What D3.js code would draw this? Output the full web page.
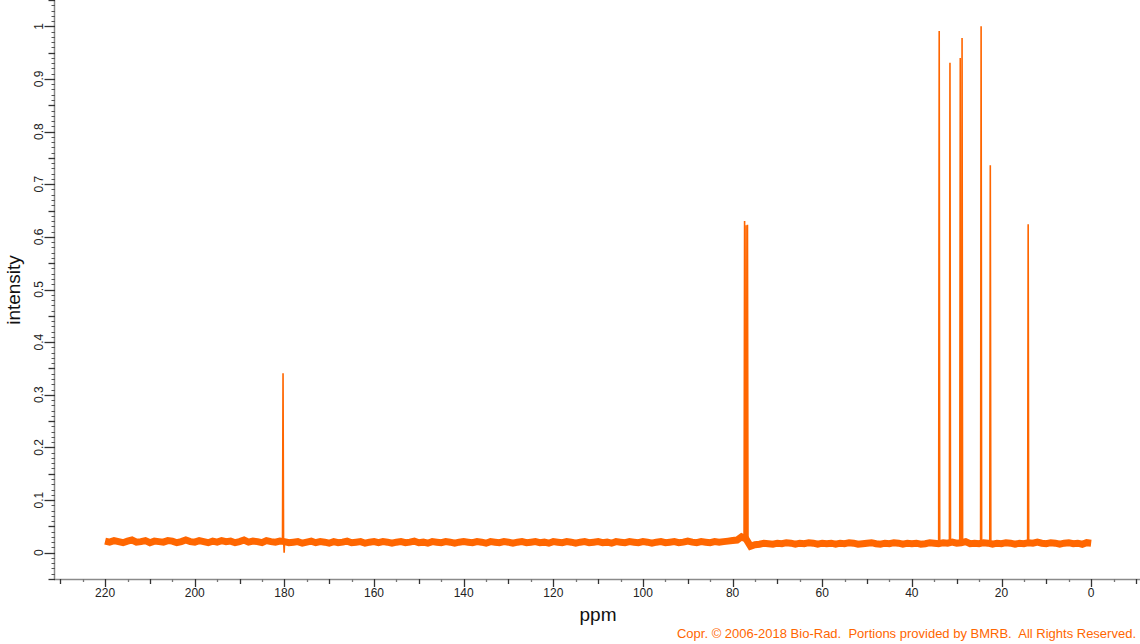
<!DOCTYPE html>
<html><head><meta charset="utf-8">
<script src="https://cdn.jsdelivr.net/npm/d3@7"></script>
<style>body{margin:0;background:#fff;} svg{display:block;font-family:"Liberation Sans",Arial,sans-serif;}</style>
</head><body><svg id="c" width="1140" height="644"></svg>
<script>
// ---- data ----
const xTickLabels = [220, 200, 180, 160, 140, 120, 100, 80, 60, 40, 20, 0];
const yTickLabels = [0, 0.1, 0.2, 0.3, 0.4, 0.5, 0.6, 0.7, 0.8, 0.9, 1];
const baselineStartPpm = 220;
const baselineStepPpm = 1;
const baselineValues = [
  0.022,0.020,0.023,0.021,0.019,0.022,0.024,0.020,0.021,0.023,0.019,0.022,0.021,0.020,0.023,0.022,0.019,0.021,0.024,0.021,
  0.020,0.023,0.021,0.019,0.022,0.020,0.023,0.021,0.022,0.019,0.021,0.024,0.020,0.022,0.021,0.019,0.023,0.021,0.020,0.022,
  0.021,
  0.019,0.020,0.021,0.018,0.020,0.022,0.019,0.021,0.020,0.018,0.021,0.019,0.020,0.022,0.019,0.020,0.021,0.018,0.020,0.021,
  0.019,0.021,0.020,0.018,0.020,0.021,0.019,0.020,0.022,0.019,0.020,0.018,0.021,0.020,0.019,0.021,0.020,0.018,0.020,0.021,
  0.020,0.019,0.021,0.020,0.018,0.021,0.020,0.019,0.021,0.020,0.018,0.020,0.021,0.019,0.020,0.021,0.019,0.020,0.018,0.021,
  0.020,0.019,0.021,0.020,0.018,0.020,0.021,0.019,0.020,0.021,0.019,0.020,0.018,0.021,0.020,0.019,0.021,0.020,0.019,0.021,
  0.020,0.018,0.020,0.021,0.019,0.020,0.021,0.019,0.020,0.022,0.020,0.019,0.021,0.020,0.019,0.021,0.020,0.021,0.022,0.023,
  0.024,0.030,0.026,0.012,0.015,0.016,0.018,0.017,0.016,0.018,0.017,0.019,0.018,0.016,0.018,0.017,0.019,0.018,0.016,0.018,
  0.017,0.018,0.016,0.018,0.017,0.019,0.018,0.016,0.017,0.018,0.019,0.017,0.016,0.018,0.017,0.019,0.018,0.016,0.018,0.017,
  0.018,0.016,0.017,0.019,0.018,0.017,0.019,0.018,0.020,0.018,0.019,0.021,0.017,0.018,0.017,0.019,0.018,0.016,0.018,0.017,
  0.019,0.018,0.016,0.018,0.017,0.019,0.018,0.020,0.018,0.017,0.019,0.018,0.016,0.018,0.019,0.017,0.018,0.016,0.019,0.018
];
const peakPpm    = [180.3, 77.32, 77.0, 76.68, 33.9, 31.5, 29.2, 28.8, 24.55, 22.5, 14.05];
const peakHeight = [0.341, 0.630, 0.622, 0.623, 0.991, 0.931, 0.940, 0.978, 1.000, 0.736, 0.624];
const dipPpm   = [180.05];
const dipValue = [0.0];
const xTitle = "ppm";
const yTitle = "intensity";
const copyright = "Copr. \u00A9 2006-2018 Bio-Rad.\u00A0 Portions provided by BMRB.\u00A0 All Rights Reserved.";

// ---- chart ----
const ORANGE = "#ff6600";
const svg = d3.select("#c");
const x = d3.scaleLinear().domain([231.4, -10.9]).range([54, 1140]);
const y = d3.scaleLinear().domain([-0.05, 1.05]).range([579, 0]);

const baseline = baselineValues.map((v, i) => [baselineStartPpm - i * baselineStepPpm, v]);
const baseAt = p => {
  const i = Math.max(0, Math.min(baselineValues.length - 1, Math.round((baselineStartPpm - p) / baselineStepPpm)));
  return baselineValues[i];
};
const line = d3.line().x(d => x(d[0])).y(d => y(d[1]));

// noise band
svg.append("path").datum(baseline).attr("d", line)
  .attr("fill", "none").attr("stroke", ORANGE).attr("stroke-width", 7)
  .attr("stroke-linejoin", "miter").attr("stroke-linecap", "butt");

// peaks
peakPpm.forEach((p, i) => {
  const b = baseAt(p);
  svg.append("path").datum([[p + 0.12, b], [p, peakHeight[i]], [p - 0.12, b]])
    .attr("d", line).attr("fill", ORANGE).attr("stroke", ORANGE).attr("stroke-width", 1.6)
    .attr("stroke-linejoin", "miter");
});
dipPpm.forEach((p, i) => {
  const b = baseAt(p);
  svg.append("path").datum([[p + 0.1, b], [p, dipValue[i]], [p - 0.1, b]])
    .attr("d", line).attr("fill", ORANGE).attr("stroke", ORANGE).attr("stroke-width", 1.6);
});

// axes
const AX = "#8a8a8a", TK = "#333";
svg.append("line").attr("x1", x.range()[0]).attr("x2", x.range()[1]).attr("y1", 579.5).attr("y2", 579.5)
  .attr("stroke", AX).attr("stroke-width", 1.5);
svg.append("line").attr("x1", 54.5).attr("x2", 54.5).attr("y1", 0).attr("y2", 579.5)
  .attr("stroke", AX).attr("stroke-width", 1.5);

// y ticks every 0.01
d3.range(-5, 106).forEach(k => {
  const yy = Math.round(y(k / 100)) + 0.5;
  const len = k % 10 === 0 ? 10 : (k % 5 === 0 ? 6 : 3);
  svg.append("line").attr("x1", 54.5 - len).attr("x2", 55).attr("y1", yy).attr("y2", yy)
    .attr("stroke", len === 3 ? "#555" : TK).attr("stroke-width", len === 3 ? 1 : 1.3);
});
svg.selectAll(".ylab").data(yTickLabels).join("text")
  .attr("transform", d => `translate(${43},${y(d)}) rotate(-90)`)
  .attr("text-anchor", "middle").attr("font-size", 12).attr("fill", "#222").text(d => d);

// x ticks every 5 ppm
d3.range(-10, 235, 5).forEach(p => {
  if (p > 231.4) return;
  const xx = Math.round(x(p)) + 0.5;
  const len = p % 20 === 0 ? 8 : (p % 10 === 0 ? 5 : 3);
  svg.append("line").attr("x1", xx).attr("x2", xx).attr("y1", 579).attr("y2", 579 + len)
    .attr("stroke", len === 3 ? "#777" : TK).attr("stroke-width", 1.3);
});
svg.selectAll(".xlab").data(xTickLabels).join("text")
  .attr("x", d => x(d)).attr("y", 597)
  .attr("text-anchor", "middle").attr("font-size", 12).attr("fill", "#222").text(d => d);

// titles
svg.append("text").attr("x", 598).attr("y", 621).attr("text-anchor", "middle")
  .attr("font-size", 19).attr("fill", "#111").text(xTitle);
svg.append("text").attr("transform", "translate(20,290) rotate(-90)").attr("text-anchor", "middle")
  .attr("font-size", 19).attr("fill", "#111").text(yTitle);
svg.append("text").attr("x", 1136).attr("y", 638).attr("text-anchor", "end")
  .attr("font-size", 13).attr("fill", ORANGE).text(copyright);
</script></body></html>
